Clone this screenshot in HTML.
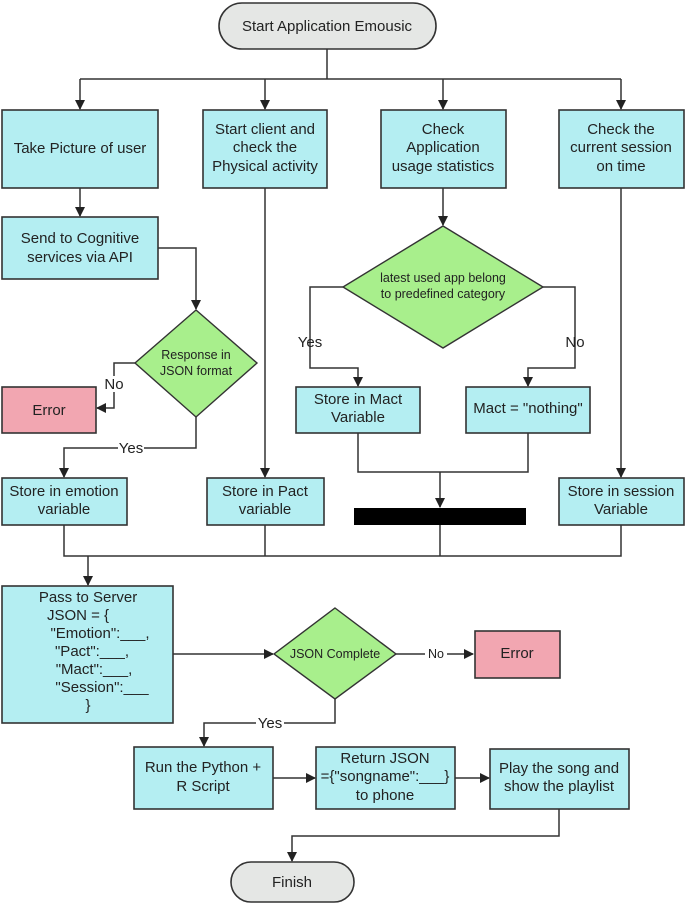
<!DOCTYPE html>
<html><head><meta charset="utf-8"><style>
html,body{margin:0;padding:0;background:#fff;}
svg{display:block;font-family:"Liberation Sans",sans-serif;}
text{font-size:15px;fill:#222;text-anchor:middle;}
.b{fill:#b4eef2;stroke:#333;stroke-width:1.6;}
.d{fill:#a8ef8c;stroke:#333;stroke-width:1.4;}
.e{fill:#f2a6b1;stroke:#333;stroke-width:1.6;}
.o{fill:#e5e7e5;stroke:#333;stroke-width:1.6;}
.l{fill:none;stroke:#333;stroke-width:1.5;}
.s{font-size:12.5px;}
</style></head><body>
<svg width="685" height="905" viewBox="0 0 685 905">
<defs><marker id="a" markerWidth="10" markerHeight="10" refX="9" refY="5" orient="auto" markerUnits="userSpaceOnUse"><path d="M0,0 L10,5 L0,10 z" fill="#222"/></marker></defs>

<path class="l" d="M327,49 V79"/>
<path class="l" d="M80,79 H621"/>
<path class="l" d="M80,79 V109" marker-end="url(#a)"/>
<path class="l" d="M265,79 V109" marker-end="url(#a)"/>
<path class="l" d="M443,79 V109" marker-end="url(#a)"/>
<path class="l" d="M621,79 V109" marker-end="url(#a)"/>
<path class="l" d="M80,188 V216" marker-end="url(#a)"/>
<path class="l" d="M158,248 H196 V309" marker-end="url(#a)"/>
<path class="l" d="M135,363 H114 V408 H97" marker-end="url(#a)"/>
<path class="l" d="M196,417 V448 H64 V477" marker-end="url(#a)"/>
<path class="l" d="M265,188 V477" marker-end="url(#a)"/>
<path class="l" d="M443,188 V225" marker-end="url(#a)"/>
<path class="l" d="M343,287 H310 V368 H358 V386" marker-end="url(#a)"/>
<path class="l" d="M543,287 H575 V368 H528 V386" marker-end="url(#a)"/>
<path class="l" d="M358,433 V472 H528 V433"/>
<path class="l" d="M440,472 V507" marker-end="url(#a)"/>
<path class="l" d="M621,188 V477" marker-end="url(#a)"/>
<path class="l" d="M64,525 V556 H621 V525"/>
<path class="l" d="M265,525 V556 M440,525 V556"/>
<path class="l" d="M88,556 V585" marker-end="url(#a)"/>
<path class="l" d="M173,654 H273" marker-end="url(#a)"/>
<path class="l" d="M396,654 H473" marker-end="url(#a)"/>
<path class="l" d="M335,699 V723 H204 V746" marker-end="url(#a)"/>
<path class="l" d="M273,778 H315" marker-end="url(#a)"/>
<path class="l" d="M455,778 H489" marker-end="url(#a)"/>
<path class="l" d="M559,809 V836 H292 V861" marker-end="url(#a)"/>

<rect class="o" x="219" y="3" width="217" height="46" rx="23"/>
<text x="327" y="31">Start Application Emousic</text>

<rect class="b" x="2" y="110" width="156" height="78"/>
<text x="80" y="153">Take Picture of user</text>
<rect class="b" x="203" y="110" width="124" height="78"/>
<text x="265" y="134">Start client and</text><text x="265" y="152">check the</text><text x="265" y="171">Physical activity</text>
<rect class="b" x="381" y="110" width="125" height="78"/>
<text x="443" y="134">Check</text><text x="443" y="152">Application</text><text x="443" y="171">usage statistics</text>
<rect class="b" x="559" y="110" width="125" height="78"/>
<text x="621" y="134">Check the</text><text x="621" y="152">current session</text><text x="621" y="171">on time</text>

<rect class="b" x="2" y="217" width="156" height="62"/>
<text x="80" y="243">Send to Cognitive</text><text x="80" y="262">services via API</text>

<polygon class="d" points="196,310 257,363 196,417 135,363"/>
<text x="196" y="359" class="s">Response in</text><text x="196" y="375" class="s">JSON format</text>
<polygon class="d" points="443,226 543,287 443,348 343,287"/>
<text x="443" y="282" class="s">latest used app belong</text><text x="443" y="298" class="s">to predefined category</text>

<rect class="e" x="2" y="387" width="94" height="46"/>
<text x="49" y="415">Error</text>
<rect x="104" y="376" width="20" height="16" fill="#fff"/><text x="114" y="389">No</text>
<rect x="118" y="441" width="26" height="14" fill="#fff"/><text x="131" y="453">Yes</text>
<text x="310" y="347">Yes</text>
<text x="575" y="347">No</text>

<rect class="b" x="296" y="387" width="124" height="46"/>
<text x="358" y="404">Store in Mact</text><text x="358" y="422">Variable</text>
<rect class="b" x="466" y="387" width="124" height="46"/>
<text x="528" y="413">Mact = "nothing"</text>

<rect x="354" y="508" width="172" height="17" fill="#000"/>

<rect class="b" x="2" y="478" width="125" height="47"/>
<text x="64" y="496">Store in emotion</text><text x="64" y="514">variable</text>
<rect class="b" x="207" y="478" width="117" height="47"/>
<text x="265" y="496">Store in Pact</text><text x="265" y="514">variable</text>
<rect class="b" x="559" y="478" width="125" height="47"/>
<text x="621" y="496">Store in session</text><text x="621" y="514">Variable</text>

<rect class="b" x="2" y="586" width="171" height="137"/>
<text x="88" y="602">Pass  to  Server</text>
<text x="78" y="620">JSON = {</text>
<text x="100" y="638">"Emotion":___,</text>
<text x="92" y="656">"Pact":___,</text>
<text x="94" y="674">"Mact":___,</text>
<text x="102" y="692">"Session":___</text>
<text x="88" y="710">}</text>

<polygon class="d" points="335,608 396,654 335,699 274,654"/>
<text x="335" y="658" class="s">JSON Complete</text>
<rect x="425" y="646" width="22" height="14" fill="#fff"/><text x="436" y="658" class="s">No</text>
<rect class="e" x="475" y="631" width="85" height="47"/>
<text x="517" y="658">Error</text>
<rect x="256" y="716" width="28" height="14" fill="#fff"/><text x="270" y="728">Yes</text>

<rect class="b" x="134" y="747" width="139" height="62"/>
<text x="203" y="772">Run the Python +</text><text x="203" y="791">R Script</text>
<rect class="b" x="316" y="747" width="139" height="62"/>
<text x="385" y="763">Return JSON</text><text x="385" y="781">={"songname":___}</text><text x="385" y="800">to phone</text>
<rect class="b" x="490" y="749" width="139" height="60"/>
<text x="559" y="773">Play the song and</text><text x="559" y="791">show the playlist</text>

<rect class="o" x="231" y="862" width="123" height="40" rx="20"/>
<text x="292" y="887">Finish</text>
</svg>
</body></html>
